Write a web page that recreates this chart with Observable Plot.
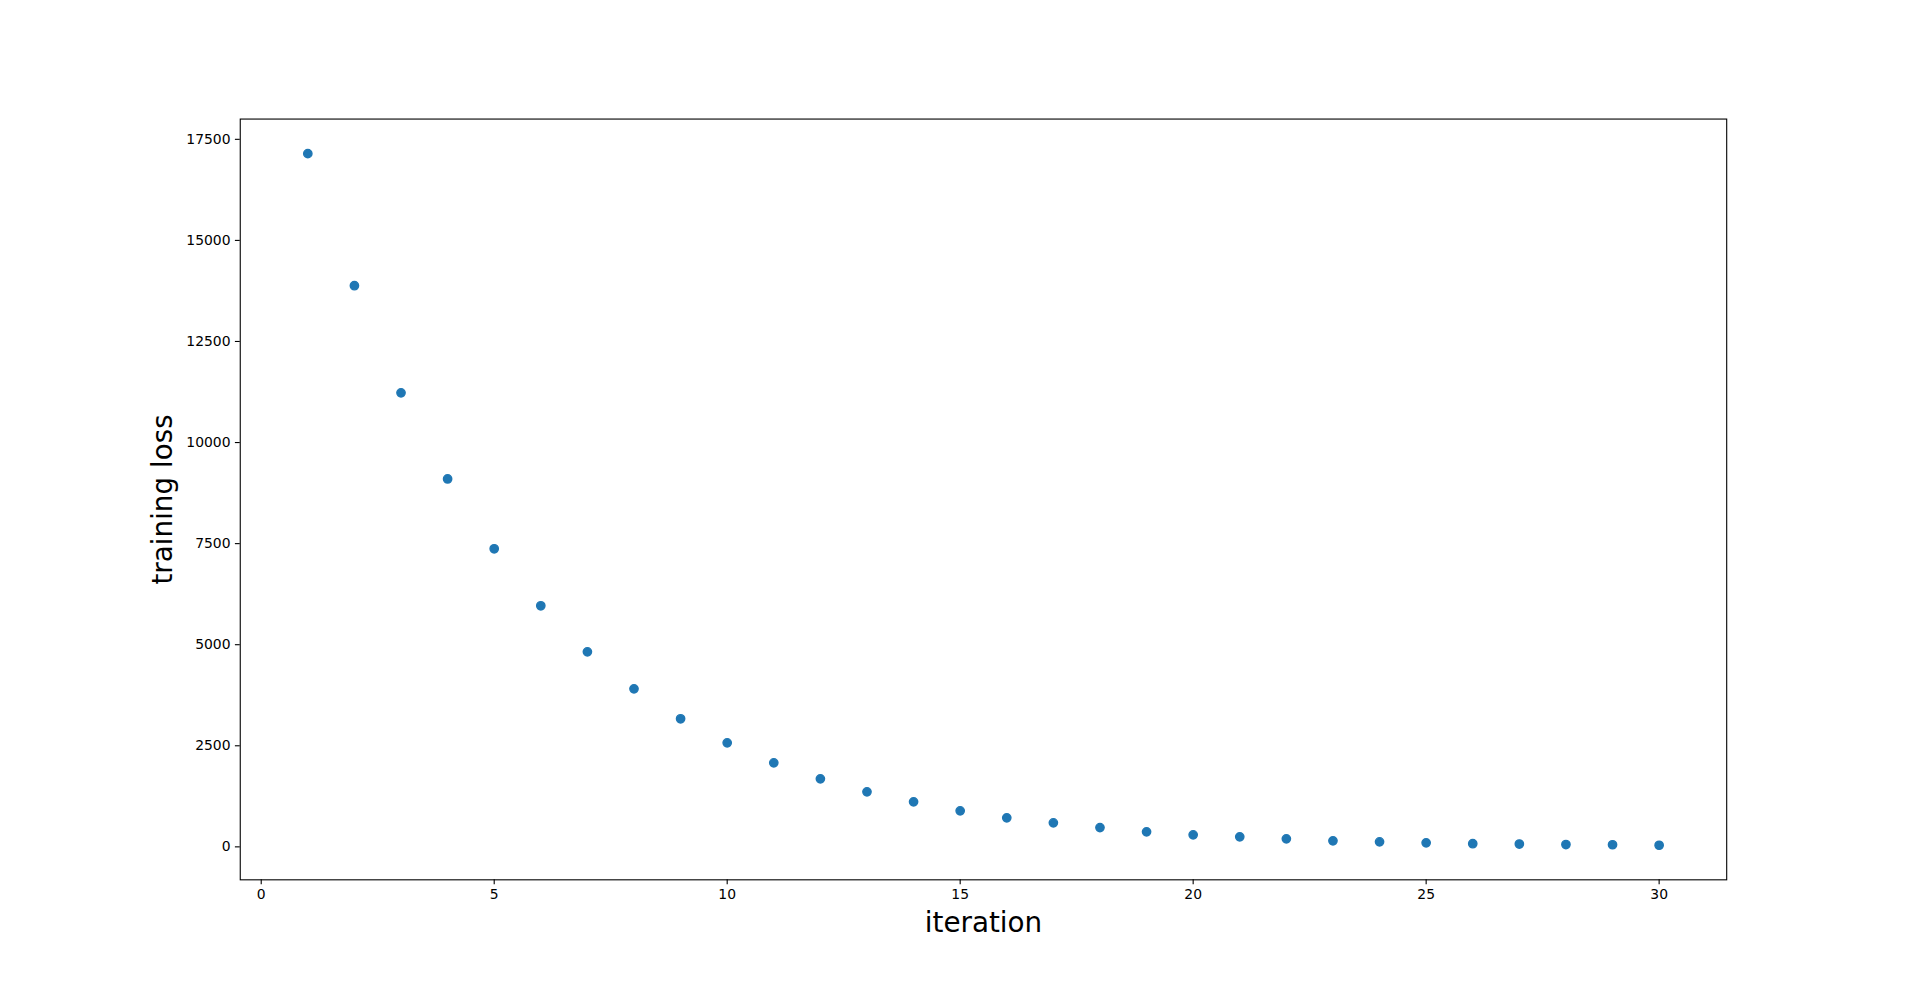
<!DOCTYPE html>
<html>
<head>
<meta charset="utf-8">
<script src="https://cdn.jsdelivr.net/npm/d3@7"></script>
<script src="https://cdn.jsdelivr.net/npm/@observablehq/plot@0.6"></script>
<style>
  html, body { margin: 0; padding: 0; background: white; overflow: hidden; }
  #chart { width: 1918px; height: 988px; }
</style>
</head>
<body>
<div id="chart"></div>
<script>
const iterations = [1, 2, 3, 4, 5, 6, 7, 8, 9, 10, 11, 12, 13, 14, 15, 16, 17, 18, 19, 20, 21, 22, 23, 24, 25, 26, 27, 28, 29, 30];
const losses = [17146, 13880, 11230, 9100, 7373, 5962, 4824, 3909, 3167, 2573, 2078, 1682, 1361, 1113, 891, 717, 594, 477, 371, 297, 247, 198, 148, 124, 99, 78, 70, 57, 52, 40];
const xTicks = [0, 5, 10, 15, 20, 25, 30];
const yTicks = [0, 2500, 5000, 7500, 10000, 12500, 15000, 17500];
const xLabel = "iteration";
const yLabel = "training loss";

const data = iterations.map((it, i) => ({iteration: it, loss: losses[i]}));

// matplotlib-like autoscale with 5% margins
const xMin = d3.min(iterations), xMax = d3.max(iterations);
const yMin = d3.min(losses), yMax = d3.max(losses);
const xPad = (xMax - xMin) * 0.05, yPad = (yMax - yMin) * 0.05;

const W = 1918, H = 988;
const chart = Plot.plot({
  width: W,
  height: H,
  marginLeft: 0.125 * W,
  marginRight: 0.1 * W,
  marginTop: 0.12 * H,
  marginBottom: 0.11 * H,
  x: {domain: [xMin - xPad, xMax + xPad]},
  y: {domain: [yMin - yPad, yMax + yPad]},
  style: {fontFamily: "DejaVu Sans", color: "black", background: "white", overflow: "visible"},
  marks: [
    Plot.axisX({ticks: xTicks, tickSize: 4.86, tickPadding: 4.86, fontSize: 13.9, tickFormat: d => String(d), label: null, strokeWidth: 1.1}),
    Plot.axisY({ticks: yTicks, tickSize: 4.86, tickPadding: 4.86, fontSize: 13.9, tickFormat: d => String(d), label: null, strokeWidth: 1.1}),
    Plot.dot(data, {x: "iteration", y: "loss", r: 4.17, fill: "#1f77b4", stroke: "#1f77b4", strokeWidth: 1.39, fillOpacity: 1}),
    Plot.frame({stroke: "black", strokeWidth: 1.1}),
    Plot.text([xLabel], {frameAnchor: "bottom", text: d => d, fontSize: 27.8, textAnchor: "middle", lineAnchor: "bottom", dy: 52, fill: "black"}),
    Plot.text([yLabel], {frameAnchor: "left", text: d => d, fontSize: 27.8, rotate: -90, textAnchor: "middle", lineAnchor: "bottom", dx: -68, fill: "black"})
  ]
});
document.getElementById("chart").appendChild(chart);
</script>
</body>
</html>
